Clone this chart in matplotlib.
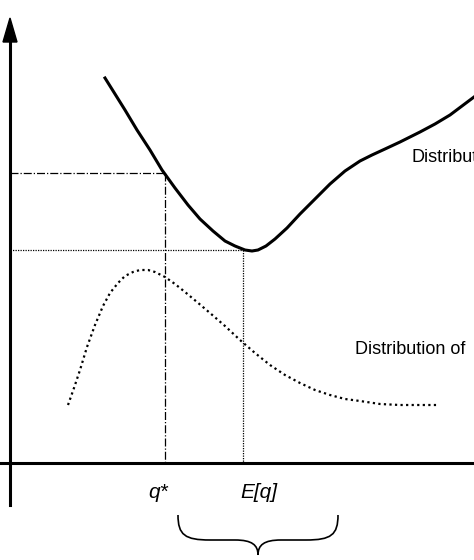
import matplotlib.pyplot as plt
from matplotlib.path import Path
from matplotlib.patches import PathPatch

# curve points (pixel-like coordinates, y down)
solid_x = [105, 115, 125, 137, 150, 162, 175, 188, 200, 213, 225, 235, 245, 252, 258, 266, 275, 287,
           300, 315, 330, 345, 360, 372, 385, 400, 420, 435, 450, 462, 474]
solid_y = [78, 94, 110, 130, 150, 170, 188, 205, 219, 231, 241, 246, 250, 251, 250, 246, 239, 228,
           214, 199, 184, 171, 161, 155, 149, 142, 132, 124, 115, 106, 97]
dotted_x = [68, 74, 80, 87, 95, 103, 110, 118, 125, 133, 140, 148, 155, 165, 175, 185, 197, 210, 225,
            240, 255, 270, 285, 300, 315, 330, 345, 360, 380, 400, 420, 437]
dotted_y = [405, 388, 370, 347, 325, 306, 293, 283, 276, 272, 270, 270, 272, 277, 284, 292, 302, 313,
            326, 340, 353, 365, 375, 383, 390, 395, 399, 401, 404, 405, 405, 405]
q_star = 165
e_q = 243
level_q_star = 173
level_e_q = 250

fig = plt.figure(figsize=(4.74, 5.60), dpi=100)
ax = fig.add_axes([0, 0, 1, 1])
ax.set_xlim(0, 474)
ax.set_ylim(560, 0)
ax.axis("off")

# axes
ax.plot([0, 474], [463, 463], color="black", lw=2.2)
ax.plot([10, 10], [505, 40], color="black", lw=2.2)
ax.fill([3, 17, 10], [42, 42, 18], color="black")

# curves
ax.plot(solid_x, solid_y, color="black", lw=2.2)
ax.plot(dotted_x, dotted_y, color="black", lw=1.6, ls=(0, (1, 1.5)))

# guide lines
ax.plot([10, q_star], [level_q_star, level_q_star], color="black", lw=0.9, ls="-.")
ax.plot([q_star, q_star], [level_q_star, 463], color="black", lw=0.9, ls="-.")
ax.plot([10, e_q], [level_e_q, level_e_q], color="black", lw=0.9, ls=(0, (1, 1)))
ax.plot([e_q, e_q], [level_e_q, 463], color="black", lw=0.9, ls=(0, (1, 1)))

# labels
ax.text(158, 492, "q*", fontsize=15, style="italic", ha="center", va="center", family="Liberation Sans")
ax.text(259, 492, "E[q]", fontsize=15, style="italic", ha="center", va="center", family="Liberation Sans")
ax.text(412, 157, "Distribution", fontsize=13, ha="left", va="center", family="Liberation Sans", clip_on=True)
ax.text(355, 350, "Distribution of", fontsize=13, ha="left", va="center", family="Liberation Sans", clip_on=True)

# brace
verts = [(178, 515),
         (178, 535), (185, 540), (210, 540),
         (235, 540),
         (252, 540), (258, 545), (258, 555),
         (258, 545), (264, 540), (281, 540),
         (306, 540),
         (331, 540), (338, 535), (338, 515)]
codes = [Path.MOVETO,
         Path.CURVE4, Path.CURVE4, Path.CURVE4,
         Path.LINETO,
         Path.CURVE4, Path.CURVE4, Path.CURVE4,
         Path.CURVE4, Path.CURVE4, Path.CURVE4,
         Path.LINETO,
         Path.CURVE4, Path.CURVE4, Path.CURVE4]
ax.add_patch(PathPatch(Path(verts, codes), fill=False, lw=1.2, color="black"))

fig.savefig("out.png", dpi=100)
